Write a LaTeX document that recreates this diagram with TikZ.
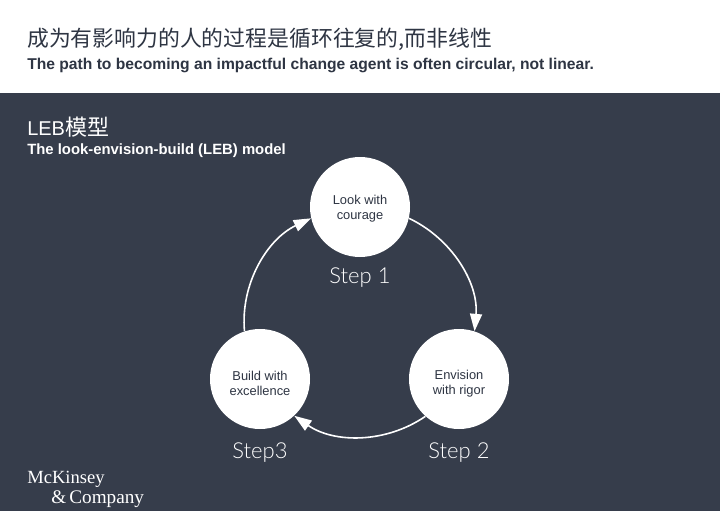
\documentclass[tikz,border=0pt]{standalone}
\usepackage{fontspec}
\usetikzlibrary{arrows.meta}
\setmainfont{Liberation Sans}
\newfontfamily\cjkfont{Noto Sans CJK SC}
\newfontfamily\logofont{Liberation Serif}
\newfontfamily\lightfont{Lato Light}
\definecolor{panel}{HTML}{363D4B}
\definecolor{inkdark}{HTML}{2E3543}
\newcommand{\shifttop}{\rule{0pt}{9.5pt}}
\newcommand{\shiftlow}{\rule{0pt}{14pt}}
\tikzset{
  x=0.75pt,y=0.75pt,
  stage/.style={circle,fill=white,draw=none,minimum size=75pt,inner sep=0pt,align=center,text=inkdark,font=\fontsize{9.65pt}{11.2pt}\selectfont},
  steplabel/.style={text=white,inner sep=0pt,font=\fontsize{16.5pt}{18pt}\lightfont},
  flow/.style={white,line width=1.2pt,looseness=0.94,-{Triangle[length=13pt,width=9pt,fill=white]}},
  lefttext/.style={anchor=base west,inner sep=0pt},
}
\begin{document}
\begin{tikzpicture}
\useasboundingbox (0,0) rectangle (720,515);
\fill[white] (0,0) rectangle (720,515);
\fill[panel] (0,4) rectangle (720,422);
\node[lefttext,text=inkdark,font=\fontsize{16.38pt}{18pt}\selectfont] (title) at (27,468) {\cjkfont 成为有影响力的人的过程是循环往复的,而非线性};
\node[lefttext,text=inkdark,font=\fontsize{11.73pt}{14pt}\bfseries] (subtitle) at (27,445.5) {The path to becoming an impactful change agent is often circular, not linear.};
\node[lefttext,text=white,font=\fontsize{15pt}{18pt}\selectfont] (head) at (27,379.5) {LEB{\fontsize{16.5pt}{18pt}\selectfont\cjkfont 模型}};
\node[lefttext,text=white,font=\fontsize{11.15pt}{13pt}\bfseries] (subhead) at (27,360) {The look-envision-build (LEB) model};
\node[stage] (look) at (360,308) {\shifttop Look with\\courage};
\node[stage] (env) at (459,136) {\shiftlow Envision\\with rigor};
\node[stage] (build) at (260,136) {\shiftlow Build with\\excellence};
\node[steplabel] (s1) at (360,237.3) {Step 1};
\node[steplabel] (s2) at (459,62.3) {Step 2};
\node[steplabel] (s3) at (260,62.3) {Step3};
\draw[flow] (look.-13) to[out=-25.4,in=85] (env.72);
\draw[flow] (env.228) to[out=-145.6,in=-34.8] (build.-47);
\draw[flow] (build.108) to[out=95,in=-154.6] (look.193);
\node[lefttext,text=white,font=\fontsize{13.95pt}{16pt}\selectfont] (logoa) at (27,32) {\logofont McKinsey};
\node[lefttext,text=white,font=\fontsize{14.4pt}{16pt}\selectfont] (logob) at (51,12) {\logofont \&\,Company};
\end{tikzpicture}
\end{document}
